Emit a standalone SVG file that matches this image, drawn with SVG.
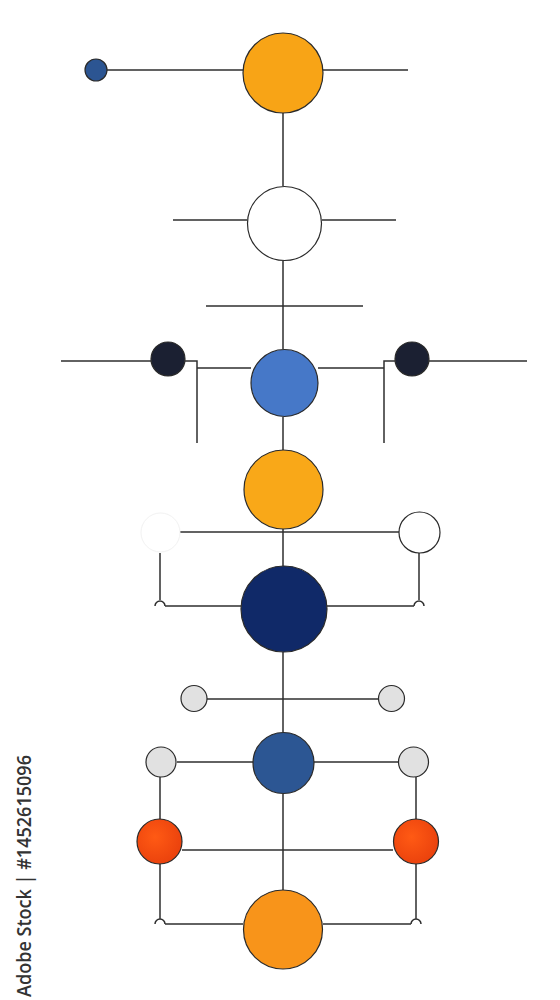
<svg xmlns="http://www.w3.org/2000/svg" width="560" height="1000" viewBox="0 0 560 1000">
<style>
.ln{stroke:#2f2f2f;stroke-width:1.5;fill:none}
.nd{stroke:#2a2a2a;stroke-width:1.2}
.wm{font-family:"Open Sans","Noto Sans",sans-serif;font-size:19px;fill:#333;font-weight:600}
</style>
<defs>
<radialGradient id="red" cx="0.4" cy="0.4" r="0.7"><stop offset="0" stop-color="#ff5a14"/><stop offset="1" stop-color="#e83f0c"/></radialGradient>
</defs>
<rect width="560" height="1000" fill="#ffffff"/>
<g id="connectors">
<path class="ln" d="M107,70H243M323,70H408"/>
<path class="ln" d="M283,113V186M283,261V349M283,417V450M283,529V566M283,652V732M283,794V890"/>
<path class="ln" d="M173,220H247M322,220H396"/>
<path class="ln" d="M206,306H363"/>
<path class="ln" d="M61,361H151M185,361H197V443M197,368H251"/>
<path class="ln" d="M318,368H384M384,443V361H395M429,361H527"/>
<path class="ln" d="M180,532H399"/>
<path class="ln" d="M160,553V600M155,606a5,5 0 0 1 10,0M165,606H241"/>
<path class="ln" d="M419,553V600M414,606a5,5 0 0 1 10,0M327,606H414"/>
<path class="ln" d="M207,699H378"/>
<path class="ln" d="M177,762H253M314,762H398"/>
<path class="ln" d="M182,850H393"/>
<path class="ln" d="M160,777V819M416,777V819"/>
<path class="ln" d="M160,864V919M155,924a5,5 0 0 1 10,0M165,924H243"/>
<path class="ln" d="M416,864V919M411,924a5,5 0 0 1 10,0M323,924H411"/>
</g>
<g id="n1"><circle class="nd" cx="96" cy="70" r="11" fill="#2c5592"/></g>
<g id="n2"><circle class="nd" cx="283" cy="73" r="40" fill="#f8a416"/></g>
<g id="n3"><circle class="nd" cx="284.5" cy="223.5" r="37" fill="#ffffff"/></g>
<g id="n4"><circle class="nd" cx="168" cy="359" r="17" fill="#1b2032"/></g>
<g id="n5"><circle class="nd" cx="412" cy="359" r="17" fill="#1b2032"/></g>
<g id="n6"><circle class="nd" cx="284.5" cy="383" r="33.5" fill="#4678c8"/></g>
<g id="n7"><circle class="nd" cx="283.5" cy="489.5" r="39.5" fill="#f9a818"/></g>
<g id="n8"><circle cx="160.5" cy="532.5" r="19.5" fill="#ffffff" stroke="#f2f2f2" stroke-width="1"/></g>
<g id="n9"><circle class="nd" cx="419.5" cy="532.5" r="20.5" fill="#ffffff"/></g>
<g id="n10"><circle class="nd" cx="284" cy="609" r="43" fill="#102968"/></g>
<g id="n11"><circle class="nd" cx="194" cy="698.5" r="13" fill="#e1e1e1"/></g>
<g id="n12"><circle class="nd" cx="391.5" cy="698.5" r="13" fill="#e1e1e1"/></g>
<g id="n13"><circle class="nd" cx="283.5" cy="763" r="30.5" fill="#2c5693"/></g>
<g id="n14"><circle class="nd" cx="161" cy="762" r="15" fill="#e1e1e1"/></g>
<g id="n15"><circle class="nd" cx="413.5" cy="762" r="15" fill="#e1e1e1"/></g>
<g id="n16"><circle class="nd" cx="159.5" cy="841.5" r="22.5" fill="url(#red)"/></g>
<g id="n17"><circle class="nd" cx="416" cy="841.5" r="22.5" fill="url(#red)"/></g>
<g id="n18"><circle class="nd" cx="283" cy="929.5" r="39.5" fill="#f8941a"/></g>
<text class="wm" transform="translate(31,997) rotate(-90)" textLength="242" lengthAdjust="spacingAndGlyphs">Adobe Stock | #1452615096</text>
</svg>
